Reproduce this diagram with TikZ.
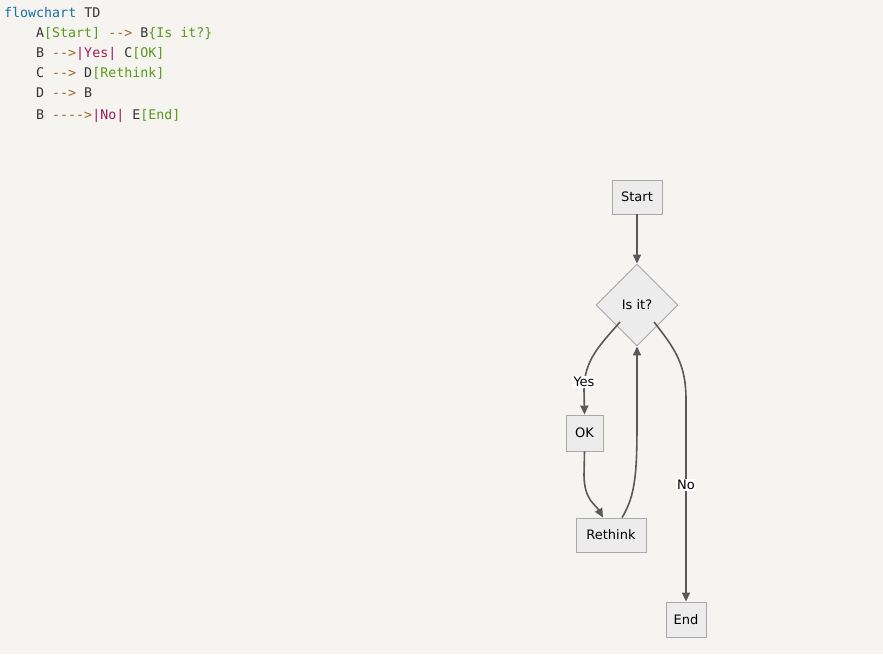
\documentclass[tikz,border=0pt]{standalone}
\usepackage{fontspec}
\setmainfont{DejaVu Sans}
\newfontfamily\codefont{DejaVu Sans Mono}
\usetikzlibrary{shapes.geometric,arrows.meta}
\definecolor{bg}{HTML}{F5F4F0}
\definecolor{kw}{HTML}{1A6FA0}
\definecolor{str}{HTML}{5A9A1A}
\definecolor{arr}{HTML}{A0662A}
\definecolor{lab}{HTML}{9C1A5A}
\definecolor{txt}{HTML}{333333}
\definecolor{nodefill}{HTML}{ECECEC}
\definecolor{nodeline}{HTML}{A8A8A8}
\definecolor{edge}{HTML}{595959}
\tikzset{
  code/.style={anchor=base west,inner sep=0pt,font=\codefont\fontsize{13.3}{15}\selectfont,text=txt},
  box/.style={draw=nodeline,fill=nodefill,line width=0.9pt,font=\fontsize{13}{15}\selectfont,inner sep=0pt,minimum height=34pt},
  dia/.style={diamond,draw=nodeline,fill=nodefill,line width=0.9pt,font=\fontsize{13}{15}\selectfont,inner sep=0pt,minimum width=82pt,minimum height=82pt},
  conn/.style={draw=edge,line width=1.6pt,-{Triangle[length=9pt,width=8pt]}},
  elab/.style={fill=white,inner sep=1.5pt,font=\fontsize{13}{15}\selectfont}
}
\begin{document}
\begin{tikzpicture}[x=1pt,y=-1pt]
\fill[bg] (0,0) rectangle (883,654);
\useasboundingbox (0,0) rectangle (883,654);
\node[code] (l1) at (4,17) {\textcolor{kw}{flowchart} TD};
\node[code] (l2) at (36,37) {A\textcolor{str}{[Start]} \textcolor{arr}{-{}->} B\textcolor{str}{\{Is it?\}}};
\node[code] (l3) at (36,57) {B \textcolor{arr}{-{}->}\textcolor{lab}{|Yes|} C\textcolor{str}{[OK]}};
\node[code] (l4) at (36,77) {C \textcolor{arr}{-{}->} D\textcolor{str}{[Rethink]}};
\node[code] (l5) at (36,97) {D \textcolor{arr}{-{}->} B};
\node[code] (l6) at (36,119) {B \textcolor{arr}{-{}-{}-{}->}\textcolor{lab}{|No|} E\textcolor{str}{[End]}};

\node[box,minimum width=50pt] (A) at (637,197) {Start};
\node[dia] (B) at (637,305) {Is it?};
\node[box,minimum width=37pt,minimum height=36pt] (C) at (584.5,433) {OK};
\node[box,minimum width=70pt] (D) at (611,535) {Rethink};
\node[box,minimum width=40pt,minimum height=35pt] (E) at (686,619.5) {End};

\draw[conn] (A.south) -- (B.north);
\draw[conn] (620,322) .. controls (600,345) and (584,360) .. (584,390) -- (C.north);
\node[elab] (yes) at (584,382) {Yes};
\draw[conn] (C.south) -- (584,475) .. controls (584,500) and (596,505) .. (D.north -| 603,0);
\draw[conn] (D.north -| 622,0) .. controls (636,495) and (637,470) .. (637,420) -- (B.south);
\draw[conn] (654,322) .. controls (676,350) and (686,365) .. (686,400) -- (E.north);
\node[elab] (no) at (686,485) {No};
\end{tikzpicture}
\end{document}
